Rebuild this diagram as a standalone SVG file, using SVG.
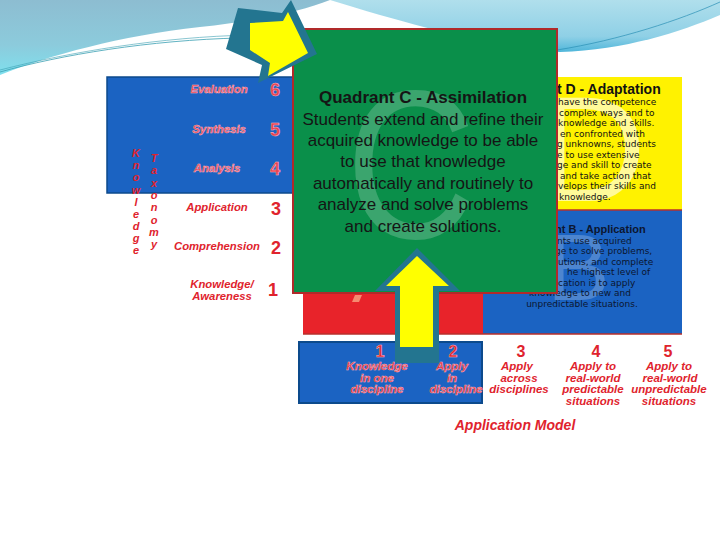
<svg xmlns="http://www.w3.org/2000/svg" width="720" height="540" viewBox="0 0 720 540">
<defs>
<linearGradient id="skyL" x1="0" y1="0" x2="0" y2="1">
<stop offset="0" stop-color="#8dbdd1"/><stop offset="0.6" stop-color="#8ccbdc"/><stop offset="1" stop-color="#7fe0ee"/>
</linearGradient>
<linearGradient id="skyR" x1="0" y1="0" x2="0" y2="1">
<stop offset="0" stop-color="#b0dfec"/><stop offset="0.7" stop-color="#8fd0e6"/><stop offset="1" stop-color="#4fb6da"/>
</linearGradient>
<style>
.t{font-family:"Liberation Sans",Arial,sans-serif}
.lbl{font-family:"Liberation Sans",Arial,sans-serif;font-weight:bold;font-style:italic;fill:#e0232d;font-size:11.3px;text-anchor:middle}
.num{font-family:"Liberation Sans",Arial,sans-serif;font-weight:bold;fill:#e0232d;font-size:18px;text-anchor:middle}
.onb{fill:#e8404f;stroke:#ffb3bb;stroke-width:0.5}
.vert{font-family:"Liberation Sans",Arial,sans-serif;font-weight:bold;font-style:italic;fill:#e0232d;font-size:11px;text-anchor:middle}
.qc{font-family:"Liberation Sans",Arial,sans-serif;font-size:17px;fill:#151515;text-anchor:middle}
.qd{font-family:"DejaVu Sans",sans-serif;font-size:9px;fill:#111}
.qb{font-family:"DejaVu Sans",sans-serif;font-size:9px;fill:#0c1630}
.am{font-family:"Liberation Sans",Arial,sans-serif;font-weight:bold;font-style:italic;fill:#e0232d;font-size:11.5px;text-anchor:middle}
.amn{font-family:"Liberation Sans",Arial,sans-serif;font-weight:bold;fill:#e0232d;font-size:16px;text-anchor:middle}
.wm{font-family:"Liberation Sans",Arial,sans-serif;fill:#ffffff}
</style>
</defs>
<rect width="720" height="540" fill="#ffffff"/>
<g id="background">
<path d="M0,0 L330,0 C300,12 250,22 200,27 C120,36 50,55 0,75 Z" fill="url(#skyL)"/>
<path d="M330,0 C420,28 500,48 560,52 C625,50 680,32 720,15 L720,0 Z" fill="url(#skyR)"/>
<path d="M0,72 C60,55 150,40 240,38" fill="none" stroke="#3a9fb2" stroke-width="0.8"/>
<path d="M0,70 C70,52 160,37 250,35" fill="none" stroke="#3a9fb2" stroke-width="0.6"/>
<path d="M557,50 C620,40 680,20 720,2" fill="none" stroke="#2a8fb5" stroke-width="0.7"/>
</g>

<g id="taxonomy">
<rect x="107" y="77" width="190" height="116" fill="#1b63c2" stroke="#0c4a8c" stroke-width="1.5"/>
<text class="lbl onb" x="219" y="93">Evaluation</text>
<text class="lbl onb" x="219" y="133">Synthesis</text>
<text class="lbl onb" x="217" y="172">Analysis</text>
<text class="lbl" x="217" y="211">Application</text>
<text class="lbl" x="217" y="250">Comprehension</text>
<text class="lbl" x="222" y="288">Knowledge/</text>
<text class="lbl" x="222" y="300">Awareness</text>
<text class="num onb" x="275" y="96">6</text>
<text class="num onb" x="275" y="136">5</text>
<text class="num onb" x="275" y="175">4</text>
<text class="num" x="276" y="215">3</text>
<text class="num" x="276" y="254">2</text>
<text class="num" x="273" y="296">1</text>
<g class="vert">
<text x="136" y="157">K</text><text x="136" y="169">n</text><text x="136" y="181">o</text><text x="136" y="194">w</text><text x="136" y="206">l</text><text x="136" y="218">e</text><text x="136" y="230">d</text><text x="136" y="242">g</text><text x="136" y="254">e</text>
<text x="154" y="162">T</text><text x="154" y="174">a</text><text x="154" y="187">x</text><text x="154" y="199">o</text><text x="154" y="211">n</text><text x="154" y="224">o</text><text x="154" y="236">m</text><text x="154" y="248">y</text>
</g>
</g>

<g id="quadrant-d">
<rect x="483" y="77" width="199" height="133" fill="#fff200"/>
<text class="wm" x="538" y="201" font-size="150" fill-opacity="0.6">D</text>
<text class="t" x="557" y="94" font-size="14" font-weight="bold" fill="#111">t D - Adaptation</text>
<text class="qd" x="558" y="105">have the competence</text>
<text class="qd" x="559" y="115.5">complex ways and to</text>
<text class="qd" x="558" y="126">knowledge and skills.</text>
<text class="qd" x="560" y="136.5">en confronted with</text>
<text class="qd" x="557" y="147">g unknowns, students</text>
<text class="qd" x="557" y="157.5">e to use extensive</text>
<text class="qd" x="557" y="168">ge and skill to create</text>
<text class="qd" x="560" y="178.5">and take action that</text>
<text class="qd" x="558" y="189">velops their skills and</text>
<text class="qd" x="559" y="199.5">knowledge.</text>
</g>

<g id="quadrant-a">
<rect x="303" y="210" width="180" height="124" fill="#e8232a"/>
<polygon points="355,295 362,295 359,302 352,302" fill="#f58a70"/>
</g>

<g id="quadrant-b">
<rect x="483" y="210" width="199" height="124" fill="#1b63c2"/>
<text class="wm" x="547" y="300" font-size="94" fill-opacity="0.22">B</text>
<text class="t" x="555" y="233" font-size="11" font-weight="bold" fill="#0c1630">nt B - Application</text>
<text class="qb" x="557" y="243.5">nts use acquired</text>
<text class="qb" x="555" y="254">ge to solve problems,</text>
<text class="qb" x="558" y="264.5">utions, and complete</text>
<text class="qb" x="567" y="275">he highest level of</text>
<text class="qb" x="558" y="285.5">cation is to apply</text>
<text class="qb" x="580" y="296" text-anchor="middle">knowledge to new and</text>
<text class="qb" x="582" y="306.5" text-anchor="middle">unpredictable situations.</text>
</g>
<path d="M483,210 H682 M303,334 H682" stroke="#b8312c" stroke-width="1.5" fill="none"/>

<g id="quadrant-c">
<rect x="293" y="29" width="264" height="264" fill="#0a8f4a" stroke="#b02a2a" stroke-width="2"/>
<text class="wm" x="0" y="0" font-size="212" fill-opacity="0.2" text-anchor="middle" transform="translate(411,238) scale(0.85,1)">C</text>
<text class="qc" x="423" y="103" font-size="16.3" font-weight="bold">Quadrant C - Assimilation</text>
<text class="qc" x="423" y="125">Students extend and refine their</text>
<text class="qc" x="423" y="146">acquired knowledge to be able</text>
<text class="qc" x="423" y="167">to use that knowledge</text>
<text class="qc" x="423" y="189">automatically and routinely to</text>
<text class="qc" x="423" y="210">analyze and solve problems</text>
<text class="qc" x="423" y="232">and create solutions.</text>
</g>

<g id="application-model">
<rect x="299" y="342" width="183" height="61" fill="#1b63c2" stroke="#0c4a8c" stroke-width="2"/>
<text class="amn onb" x="380" y="357">1</text>
<text class="am onb" x="377" y="370">Knowledge</text>
<text class="am onb" x="377" y="381.5">in one</text>
<text class="am onb" x="377" y="393">discipline</text>
<text class="amn onb" x="453" y="357">2</text>
<text class="am onb" x="452" y="370">Apply</text>
<text class="am onb" x="452" y="381.5">in</text>
<text class="am onb" x="456" y="393">discipline</text>
<text class="amn" x="521" y="357">3</text>
<text class="am" x="517" y="370">Apply</text>
<text class="am" x="519" y="381.5">across</text>
<text class="am" x="519" y="393">disciplines</text>
<text class="amn" x="596" y="357">4</text>
<text class="am" x="593" y="370">Apply to</text>
<text class="am" x="593" y="381.5">real-world</text>
<text class="am" x="593" y="393">predictable</text>
<text class="am" x="593" y="404.5">situations</text>
<text class="amn" x="668" y="357">5</text>
<text class="am" x="669" y="370">Apply to</text>
<text class="am" x="670" y="381.5">real-world</text>
<text class="am" x="669" y="393">unpredictable</text>
<text class="am" x="669" y="404.5">situations</text>
<text class="t" x="515" y="430" font-size="14" font-weight="bold" font-style="italic" fill="#e0232d" text-anchor="middle">Application Model</text>
</g>

<g id="connectors">
<g id="arrow-top">
<polygon points="238,8 282,13 291,0 317,54 258,83 262,65 226,49" fill="#237590"/>
<polygon points="250,23 283,21 288,12 308,53 268,76 270,63 250,50" fill="#ffff00"/>
</g>
<g id="arrow-up">
<polygon points="417,248 460,291 439,291 439,363 395,363 395,291 375,291" fill="#237590"/>
<polygon points="417,256 449,286 433,286 433,347 400,347 400,286 386,286" fill="#ffff00"/>
</g>
</g>
</svg>
